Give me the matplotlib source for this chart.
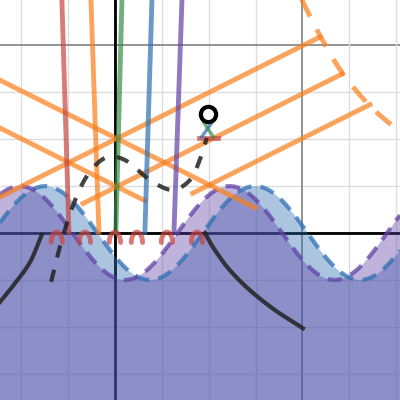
import numpy as np
import matplotlib
matplotlib.use("Agg")
import matplotlib.pyplot as plt

# view
x_range = (-2.45, 6.08)
y_range = (-3.56, 4.97)

# waves: amplitude, period, phase (x of peak)
blue_wave = dict(amp=1.0, period=4.48, peak=-1.49)
purple_wave = dict(amp=1.0, period=4.47, peak=-2.02)

# black curve pieces
blk_left_x = [-2.45, -2.13, -1.81, -1.56]
blk_left_y = [-1.47, -1.07, -0.62, -0.04]
blk_dash_x = [-1.36, -1.22, -1.07, -0.85, -0.58, -0.21, 0.21, 0.75, 1.22, 1.60, 1.81, 1.96]
blk_dash_y = [-1.04, -0.47, 0.06, 0.70, 1.24, 1.60, 1.56, 1.13, 0.92, 1.13, 1.56, 2.03]
blk_right_x = [1.92, 2.13, 2.45, 2.88, 3.41, 4.01]
blk_right_y = [0.0, -0.36, -0.79, -1.22, -1.64, -2.03]
open_pt = (1.98, 2.54)

# near vertical lines: (x_top, x_bottom)
vlines = {"red": (-1.13, -0.98), "orange": (-0.51, -0.34), "green": (0.15, 0.02),
          "blue": (0.79, 0.64), "purple": (1.43, 1.26)}
vline_y = (4.97, 0.02)

# red arcs centres
arc_x = [-1.24, -0.64, 0.0, 0.47, 1.11, 1.75]

# orange segments (x0, y0, x1, y1)
orange_segs = [(-2.45, 3.26, 2.99, 0.54), (-2.45, 2.24, 0.64, 0.69),
               (-2.45, 0.77, 4.37, 4.18), (-0.68, 0.63, 4.84, 3.39),
               (1.66, 0.85, 5.44, 2.74)]
orange_arc_x = [3.80, 3.99, 4.37, 4.84, 5.44, 6.03, 6.30]
orange_arc_y = [5.40, 4.97, 4.22, 3.43, 2.71, 2.20, 2.00]

C = dict(red="#c74440", blue="#2d70b3", green="#388c46", purple="#6042a6",
         orange="#fa7e19", black="#000000")


def smooth(xp, yp, n=12):
    p = np.column_stack([xp, yp]).astype(float)
    p = np.vstack([2 * p[0] - p[1], p, 2 * p[-1] - p[-2]])
    out = []
    t = np.linspace(0, 1, n, endpoint=False)[:, None]
    for i in range(1, len(p) - 2):
        p0, p1, p2, p3 = p[i - 1], p[i], p[i + 1], p[i + 2]
        out.append(0.5 * ((2 * p1) + (-p0 + p2) * t + (2 * p0 - 5 * p1 + 4 * p2 - p3) * t ** 2
                          + (-p0 + 3 * p1 - 3 * p2 + p3) * t ** 3))
    out.append(p[-2][None, :])
    o = np.vstack(out)
    return o[:, 0], o[:, 1]


fig = plt.figure(figsize=(4, 4), dpi=100)
ax = fig.add_axes([0, 0, 1, 1])
ax.set_xlim(*x_range); ax.set_ylim(*y_range)
ax.axis("off")

for g in range(-3, 8):
    col, lw = ("#8a8a8a", 1.3) if g % 4 == 0 else ("#dddddd", 1.0)
    ax.axvline(g, color=col, lw=lw, zorder=0)
    ax.axhline(g, color=col, lw=lw, zorder=0)
ax.axvline(0, color="black", lw=2, zorder=1)
ax.axhline(0, color="black", lw=2, zorder=1)

xs = np.linspace(x_range[0], x_range[1], 600)
for w, c in ((blue_wave, C["blue"]), (purple_wave, C["purple"])):
    ys = w["amp"] * np.cos(2 * np.pi * (xs - w["peak"]) / w["period"])
    ax.fill_between(xs, y_range[0], ys, color=c, alpha=0.4, lw=0, zorder=2)
    ax.plot(xs, ys, color=c, lw=3, alpha=0.75, dashes=(3.5, 2.2), zorder=3)

for x0, y0, x1, y1 in orange_segs:
    ax.plot([x0, x1], [y0, y1], color=C["orange"], lw=3.5, alpha=0.7, zorder=4)
ax.plot(*smooth(orange_arc_x, orange_arc_y), color=C["orange"], lw=3.5, alpha=0.7,
        dashes=(4, 3), zorder=4)

for name, (xt, xb) in vlines.items():
    ax.plot([xt, xb], vline_y, color=C[name], lw=3.5, alpha=0.7, zorder=4)

th = np.linspace(0, np.pi, 30)
for cx in arc_x:
    ax.plot(cx + 0.12 * np.cos(th), -0.2 + 0.22 * np.sin(th), color=C["red"],
            lw=3.5, alpha=0.7, zorder=4, solid_capstyle="round")

# small marks near open point
ax.plot([1.80, 2.2], [2.03, 2.03], color=C["red"], lw=3.5, alpha=0.7, zorder=4)
ax.plot([1.85, 2.1], [2.05, 2.4], color=C["blue"], lw=2.5, alpha=0.7, zorder=4)
ax.plot([2.1, 1.9], [2.05, 2.35], color=C["green"], lw=2.5, alpha=0.7, zorder=4)

ax.plot(*smooth(blk_left_x, blk_left_y), color="#222222", lw=3, alpha=0.85, zorder=5)
ax.plot(*smooth(blk_dash_x, blk_dash_y), color="#222222", lw=3, alpha=0.85,
        dashes=(3, 3), zorder=5)
ax.plot(*smooth(blk_right_x, blk_right_y), color="#222222", lw=3, alpha=0.85, zorder=5)
ax.plot(*open_pt, "o", ms=11, mfc="white", mec="black", mew=3, zorder=6)

fig.savefig("out.png", dpi=100)
